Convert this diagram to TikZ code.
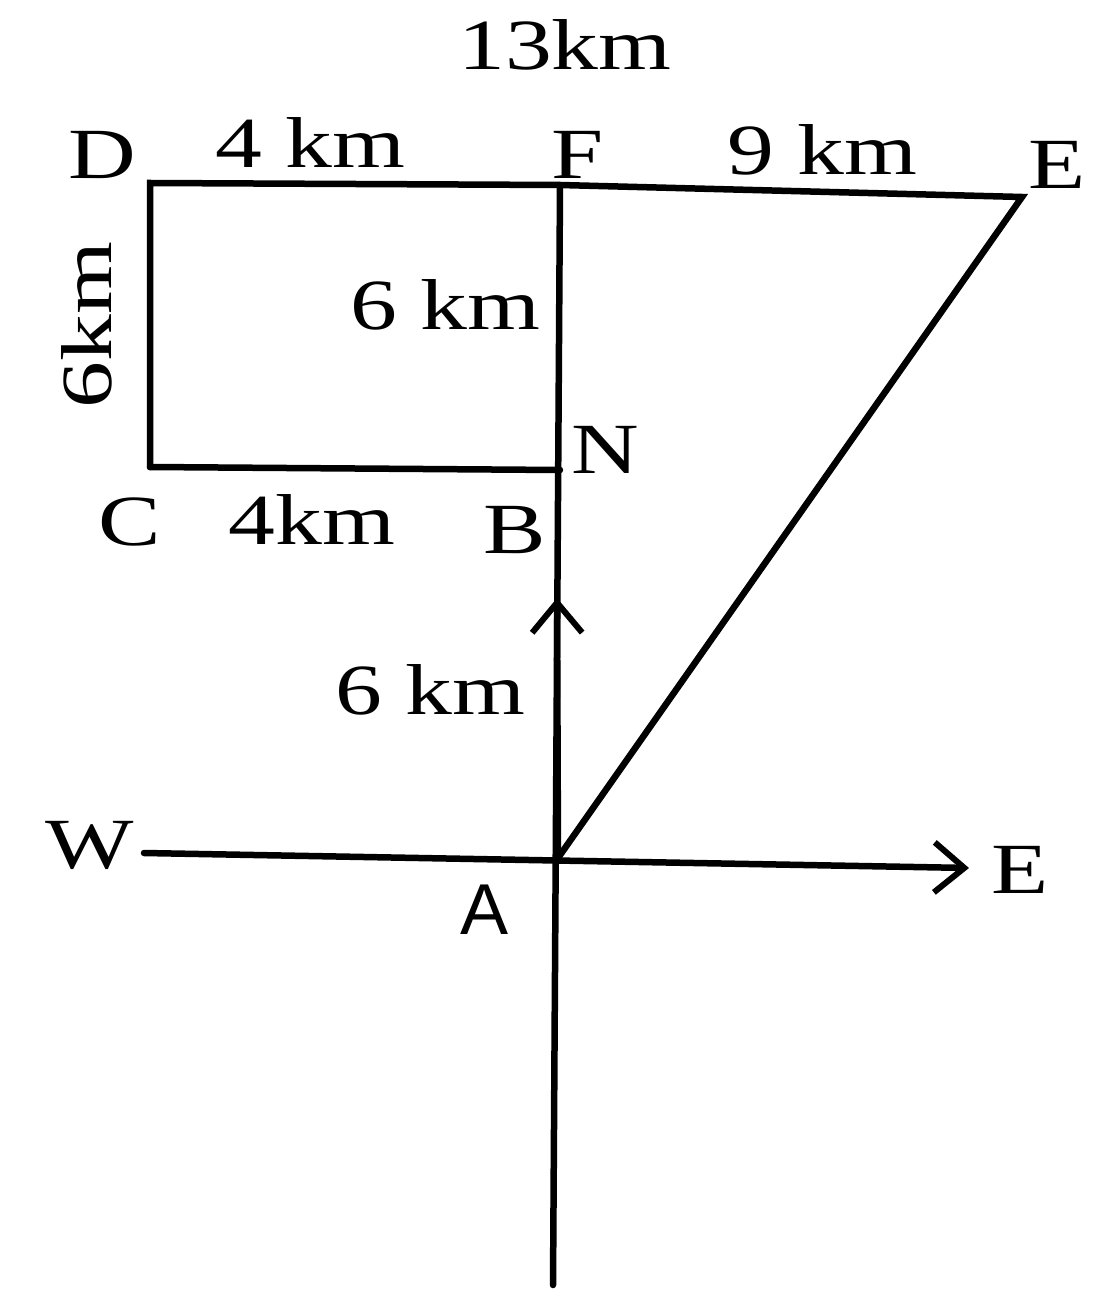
\documentclass[tikz,border=0pt]{standalone}
\usepackage{fontspec}
\setmainfont{Liberation Serif}
\newfontfamily\labsans{Liberation Sans}
\usetikzlibrary{arrows.meta}
\usetikzlibrary{positioning}
\newcommand{\widetxt}[1]{\scalebox{1.3}[1]{#1}}
\tikzset{
    route/.style={line width=0.65mm, line cap=round, line join=miter},
    lbl/.style={inner sep=0pt, font=\fontsize{20.5}{24}\selectfont},
    tipbarb/.style={-{Straight Barb[length=3mm, width=5mm, line width=0.6mm]}},
}

\begin{document}
\begin{tikzpicture}[x=0.1mm, y=-0.1mm]

            \useasboundingbox (0,0) rectangle (1092,1304);

            % Corners
            \coordinate (D) at (150,183);
            \coordinate (F) at (560,185);
            \coordinate (Et) at (1022,197);
            \coordinate (C) at (150,467);
            \coordinate (B) at (560,470);
            \coordinate (A) at (558,858);
            \coordinate (S) at (553,1285);
            \coordinate (W) at (144,853);
            \coordinate (Ee) at (969,868);
            \coordinate (M) at (557,598);

            % Paths
            \draw[route] (C) -- (D) -- (F) -- (Et) -- (A);
            \draw[route] (C) -- (B);
            \draw[route] (F) -- (S);
            \draw[route, tipbarb] (A) -- (M);
            \draw[route, tipbarb] (W) -- (Ee);

            % Labels
            \node[lbl] (total) at (565,45) {\widetxt{13km}};
            \node[lbl] (lD) at (102,155) {\widetxt{D}};
            \node[lbl] (dF) at (310,143) {\widetxt{4 km}};
            \node[lbl] (lF) at (578,155) {\widetxt{F}};
            \node[lbl] (fE) at (822,150) {\widetxt{9 km}};
            \node[lbl] (lEt) at (1057,165) {\widetxt{E}};
            \node[lbl, rotate=90] (dC) at (87,325) {\widetxt{6km}};
            \node[lbl] (fN) at (445,305) {\widetxt{6 km}};
            \node[lbl] (lN) at (605,450) {\widetxt{N}};
            \node[lbl] (lC) at (130,522) {\widetxt{C}};
            \node[lbl] (cB) at (312,520) {\widetxt{4km}};
            \node[lbl] (lB) at (515,530) {\widetxt{B}};
            \node[lbl] (aB) at (430,690) {\widetxt{6 km}};
            \node[lbl] (lW) at (90,845) {\widetxt{W}};
            \node[lbl, font=\fontsize{20.5}{24}\selectfont\labsans] (lA) at (485,910) {A};
            \node[lbl] (lE) at (1020,870) {\widetxt{E}};

        \end{tikzpicture}
\end{document}
